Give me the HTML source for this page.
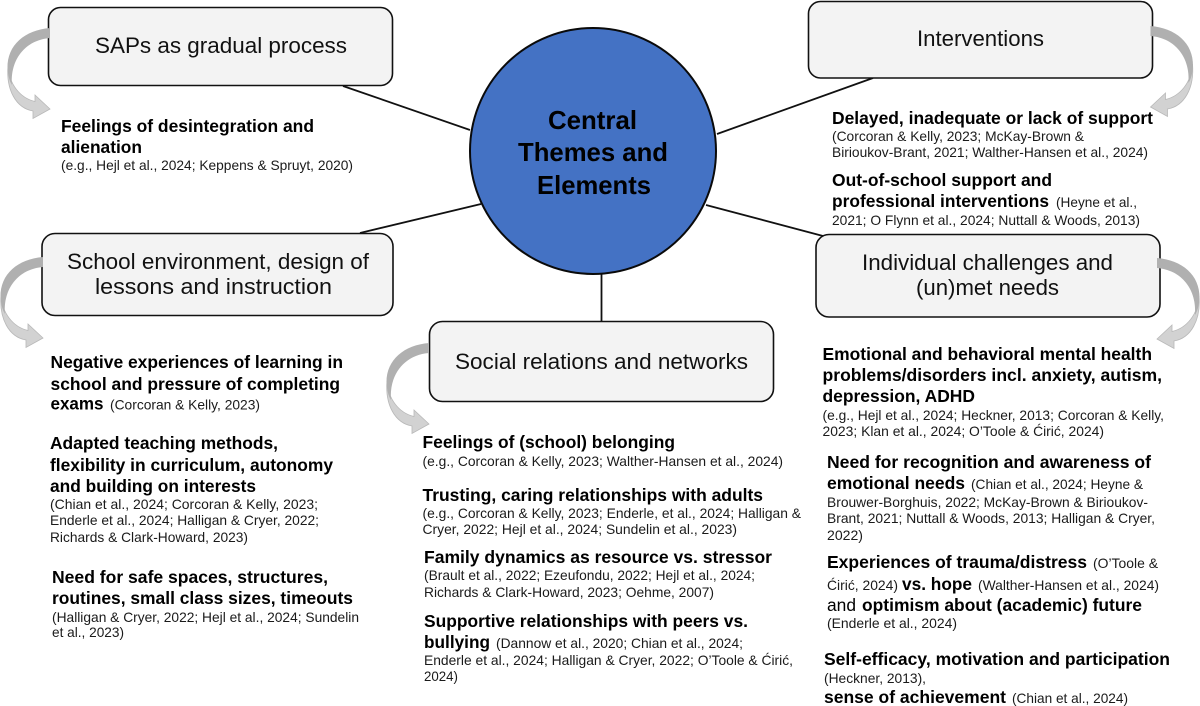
<!DOCTYPE html>
<html lang="en">
<head>
<meta charset="utf-8">
<title>Central Themes and Elements</title>
<style>
html,body{margin:0;padding:0;background:#fff;}
svg{display:block;position:absolute;left:0;top:0;filter:blur(.3px);}
text{font-family:"Liberation Sans",Arial,sans-serif;fill:#000;}
.t{font-size:22.200px;fill:#111;}
.b{font-size:17.450px;font-weight:bold;}
.c{font-size:13.600px;fill:#1a1a1a;}
.r{font-size:17.450px;}
.m{font-size:26px;font-weight:bold;fill:#000;}
</style>
</head>
<body>
<svg width="1200" height="706" viewBox="0 0 1200 706" xmlns="http://www.w3.org/2000/svg">
<defs>
<g id="arrow">
<path d="M8,66 C9,84 20,98 35,101.500 L35,95 L50,109 L33,118.500 L33,111 C16,108 6,90 8,66 Z" fill="#d2d2d2" stroke="#b8b8b8" stroke-width=".8"/>
<path d="M50,28 C25,30 7,45 7.5,68 C8,75 9,80 12,85 C10,60 25,40 50,38 Z" fill="#b0b0b0"/>
</g>
</defs>
<rect width="1200" height="706" fill="#fff"/>
<g stroke="#111" stroke-width="1.8" fill="none">
<line x1="343" y1="86" x2="470" y2="130"/>
<line x1="873" y1="78" x2="717" y2="134"/>
<line x1="360" y1="233" x2="481" y2="204"/>
<line x1="706" y1="205" x2="823" y2="236"/>
<line x1="601.500" y1="271" x2="601.500" y2="321"/>
</g>
<circle cx="593" cy="151" r="123" fill="#4472c4" stroke="#0a0a0a" stroke-width="2"/>
<g fill="#f3f3f3" stroke="#111" stroke-width="1.6">
<rect x="48.500" y="7.500" width="344" height="78" rx="12"/>
<rect x="808.500" y="1.500" width="344" height="76.500" rx="12"/>
<rect x="42" y="233.500" width="351" height="82" rx="13"/>
<rect x="429.500" y="321.500" width="344" height="80" rx="13"/>
<rect x="816" y="234.500" width="344" height="82.500" rx="13"/>
</g>
<use href="#arrow"/>
<use href="#arrow" transform="translate(-7,229)"/>
<use href="#arrow" transform="translate(379,315)"/>
<use href="#arrow" transform="translate(1200.500,-2) scale(-1,1)"/>
<use href="#arrow" transform="translate(1207,230) scale(-1,1)"/>

<text class="m" x="548" y="129" textLength="89" lengthAdjust="spacingAndGlyphs">Central</text>
<text class="m" x="518" y="161" textLength="150" lengthAdjust="spacingAndGlyphs">Themes and</text>
<text class="m" x="537" y="194" textLength="114" lengthAdjust="spacingAndGlyphs">Elements</text>

<text class="t" x="95" y="53" textLength="252" lengthAdjust="spacingAndGlyphs">SAPs as gradual process</text>
<text class="t" x="917" y="46" textLength="127" lengthAdjust="spacingAndGlyphs">Interventions</text>
<text class="t" x="67" y="269" textLength="302" lengthAdjust="spacingAndGlyphs">School environment, design of</text>
<text class="t" x="95" y="294" textLength="237" lengthAdjust="spacingAndGlyphs">lessons and instruction</text>
<text class="t" x="455" y="369" textLength="293" lengthAdjust="spacingAndGlyphs">Social relations and networks</text>
<text class="t" x="862" y="270" textLength="251" lengthAdjust="spacingAndGlyphs">Individual challenges and</text>
<text class="t" x="916" y="295" textLength="143" lengthAdjust="spacingAndGlyphs">(un)met needs</text>

<text class="b" x="61" y="132" textLength="253" lengthAdjust="spacingAndGlyphs">Feelings of desintegration and</text>
<text class="b" x="61" y="153" textLength="81" lengthAdjust="spacingAndGlyphs">alienation</text>
<text class="c" x="61" y="170" textLength="292" lengthAdjust="spacingAndGlyphs">(e.g., Hejl et al., 2024; Keppens &amp; Spruyt, 2020)</text>

<text class="b" x="50.500" y="368" textLength="292.500" lengthAdjust="spacingAndGlyphs">Negative experiences of learning in</text>
<text class="b" x="50.500" y="390" textLength="289.500" lengthAdjust="spacingAndGlyphs">school and pressure of completing</text>
<text class="b" x="50.500" y="409.500" textLength="53" lengthAdjust="spacingAndGlyphs">exams</text>
<text class="c" x="110" y="409.500" textLength="150" lengthAdjust="spacingAndGlyphs">(Corcoran &amp; Kelly, 2023)</text>
<text class="b" x="50" y="449" textLength="228" lengthAdjust="spacingAndGlyphs">Adapted teaching methods,</text>
<text class="b" x="50" y="471" textLength="283" lengthAdjust="spacingAndGlyphs">flexibility in curriculum, autonomy</text>
<text class="b" x="50" y="492" textLength="206" lengthAdjust="spacingAndGlyphs">and building on interests</text>
<text class="c" x="50" y="509" textLength="268" lengthAdjust="spacingAndGlyphs">(Chian et al., 2024; Corcoran &amp; Kelly, 2023;</text>
<text class="c" x="50" y="525" textLength="269" lengthAdjust="spacingAndGlyphs">Enderle et al., 2024; Halligan &amp; Cryer, 2022;</text>
<text class="c" x="50" y="542" textLength="198" lengthAdjust="spacingAndGlyphs">Richards &amp; Clark-Howard, 2023)</text>
<text class="b" x="52" y="583" textLength="276" lengthAdjust="spacingAndGlyphs">Need for safe spaces, structures,</text>
<text class="b" x="52" y="604" textLength="301" lengthAdjust="spacingAndGlyphs">routines, small class sizes, timeouts</text>
<text class="c" x="52" y="622" textLength="307" lengthAdjust="spacingAndGlyphs">(Halligan &amp; Cryer, 2022; Hejl et al., 2024; Sundelin</text>
<text class="c" x="52" y="637" textLength="72" lengthAdjust="spacingAndGlyphs">et al., 2023)</text>

<text class="b" x="422.500" y="448" textLength="252.500" lengthAdjust="spacingAndGlyphs">Feelings of (school) belonging</text>
<text class="c" x="422.500" y="466" textLength="360.500" lengthAdjust="spacingAndGlyphs">(e.g., Corcoran &amp; Kelly, 2023; Walther-Hansen et al., 2024)</text>
<text class="b" x="422.500" y="501" textLength="340.500" lengthAdjust="spacingAndGlyphs">Trusting, caring relationships with adults</text>
<text class="c" x="422.500" y="518" textLength="378.500" lengthAdjust="spacingAndGlyphs">(e.g., Corcoran &amp; Kelly, 2023; Enderle, et al., 2024; Halligan &amp;</text>
<text class="c" x="422.500" y="534" textLength="314.500" lengthAdjust="spacingAndGlyphs">Cryer, 2022; Hejl et al., 2024; Sundelin et al., 2023)</text>
<text class="b" x="424" y="563" textLength="348" lengthAdjust="spacingAndGlyphs">Family dynamics as resource vs. stressor</text>
<text class="c" x="424" y="580" textLength="331" lengthAdjust="spacingAndGlyphs">(Brault et al., 2022; Ezeufondu, 2022; Hejl et al., 2024;</text>
<text class="c" x="424" y="597" textLength="290" lengthAdjust="spacingAndGlyphs">Richards &amp; Clark-Howard, 2023; Oehme, 2007)</text>
<text class="b" x="424" y="627" textLength="324" lengthAdjust="spacingAndGlyphs">Supportive relationships with peers vs.</text>
<text class="b" x="424" y="648" textLength="66" lengthAdjust="spacingAndGlyphs">bullying</text>
<text class="c" x="496" y="648" textLength="247" lengthAdjust="spacingAndGlyphs">(Dannow et al., 2020; Chian et al., 2024;</text>
<text class="c" x="424" y="665" textLength="369" lengthAdjust="spacingAndGlyphs">Enderle et al., 2024; Halligan &amp; Cryer, 2022; O’Toole &amp; Ćirić,</text>
<text class="c" x="424" y="681" textLength="34" lengthAdjust="spacingAndGlyphs">2024)</text>

<text class="b" x="832" y="124" textLength="321" lengthAdjust="spacingAndGlyphs">Delayed, inadequate or lack of support</text>
<text class="c" x="832" y="141" textLength="252" lengthAdjust="spacingAndGlyphs">(Corcoran &amp; Kelly, 2023; McKay-Brown &amp;</text>
<text class="c" x="832" y="157" textLength="316" lengthAdjust="spacingAndGlyphs">Birioukov-Brant, 2021; Walther-Hansen et al., 2024)</text>
<text class="b" x="832" y="186" textLength="220" lengthAdjust="spacingAndGlyphs">Out-of-school support and</text>
<text class="b" x="832" y="207" textLength="217" lengthAdjust="spacingAndGlyphs">professional interventions</text>
<text class="c" x="1056" y="207" textLength="81" lengthAdjust="spacingAndGlyphs">(Heyne et al.,</text>
<text class="c" x="832" y="225" textLength="308" lengthAdjust="spacingAndGlyphs">2021; O Flynn et al., 2024; Nuttall &amp; Woods, 2013)</text>

<text class="b" x="822.500" y="360" textLength="329.500" lengthAdjust="spacingAndGlyphs">Emotional and behavioral mental health</text>
<text class="b" x="822.500" y="381" textLength="339.500" lengthAdjust="spacingAndGlyphs">problems/disorders incl. anxiety, autism,</text>
<text class="b" x="822.500" y="402" textLength="152.500" lengthAdjust="spacingAndGlyphs">depression, ADHD</text>
<text class="c" x="822.500" y="420" textLength="341.500" lengthAdjust="spacingAndGlyphs">(e.g., Hejl et al., 2024; Heckner, 2013; Corcoran &amp; Kelly,</text>
<text class="c" x="822.500" y="436" textLength="281.500" lengthAdjust="spacingAndGlyphs">2023; Klan et al., 2024; O’Toole &amp; Ćirić, 2024)</text>
<text class="b" x="827" y="468" textLength="324" lengthAdjust="spacingAndGlyphs">Need for recognition and awareness of</text>
<text class="b" x="827" y="489" textLength="138" lengthAdjust="spacingAndGlyphs">emotional needs</text>
<text class="c" x="971" y="489" textLength="172" lengthAdjust="spacingAndGlyphs">(Chian et al., 2024; Heyne &amp;</text>
<text class="c" x="827" y="507" textLength="321" lengthAdjust="spacingAndGlyphs">Brouwer-Borghuis, 2022; McKay-Brown &amp; Birioukov-</text>
<text class="c" x="827" y="523" textLength="328" lengthAdjust="spacingAndGlyphs">Brant, 2021; Nuttall &amp; Woods, 2013; Halligan &amp; Cryer,</text>
<text class="c" x="827" y="540" textLength="36" lengthAdjust="spacingAndGlyphs">2022)</text>
<text class="b" x="827" y="568" textLength="260" lengthAdjust="spacingAndGlyphs">Experiences of trauma/distress</text>
<text class="c" x="1093" y="568" textLength="65" lengthAdjust="spacingAndGlyphs">(O’Toole &amp;</text>
<text class="c" x="827" y="590" textLength="71" lengthAdjust="spacingAndGlyphs">Ćirić, 2024)</text>
<text class="b" x="902" y="590" textLength="70" lengthAdjust="spacingAndGlyphs">vs. hope</text>
<text class="c" x="978" y="590" textLength="181" lengthAdjust="spacingAndGlyphs">(Walther-Hansen et al., 2024)</text>
<text class="r" x="827" y="611" textLength="29" lengthAdjust="spacingAndGlyphs">and</text>
<text class="b" x="862" y="611" textLength="280" lengthAdjust="spacingAndGlyphs">optimism about (academic) future</text>
<text class="c" x="827" y="628" textLength="130" lengthAdjust="spacingAndGlyphs">(Enderle et al., 2024)</text>
<text class="b" x="824" y="665" textLength="346" lengthAdjust="spacingAndGlyphs">Self-efficacy, motivation and participation</text>
<text class="c" x="824" y="683" textLength="102" lengthAdjust="spacingAndGlyphs">(Heckner, 2013),</text>
<text class="b" x="824" y="703" textLength="182" lengthAdjust="spacingAndGlyphs">sense of achievement</text>
<text class="c" x="1012" y="703" textLength="116" lengthAdjust="spacingAndGlyphs">(Chian et al., 2024)</text>
</svg>
</body>
</html>
